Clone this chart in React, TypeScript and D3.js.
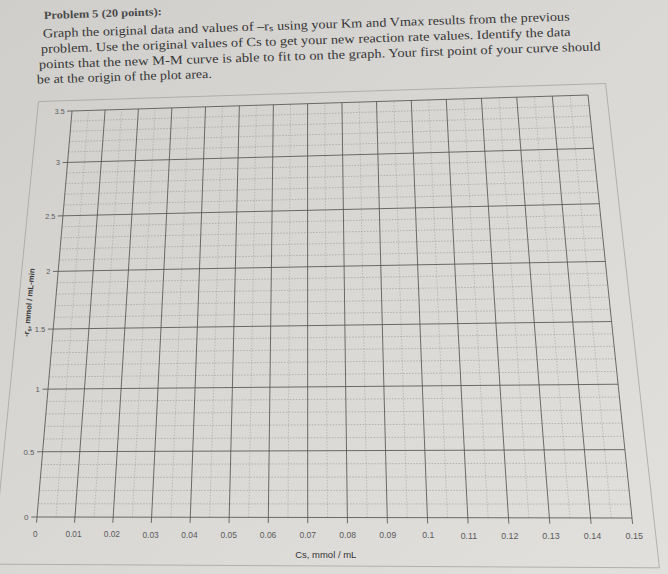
import React from 'react';
import * as d3 from 'd3';

// ---------- data ----------
const xTickValues = [0, 0.01, 0.02, 0.03, 0.04, 0.05, 0.06, 0.07, 0.08, 0.09, 0.1, 0.11, 0.12, 0.13, 0.14, 0.15];
const xTickLabels = ['0', '0.01', '0.02', '0.03', '0.04', '0.05', '0.06', '0.07', '0.08', '0.09', '0.1', '0.11', '0.12', '0.13', '0.14', '0.15'];
const yTickValues = [0, 0.5, 1, 1.5, 2, 2.5, 3, 3.5];
const yTickLabels = ['0', '0.5', '1', '1.5', '2', '2.5', '3', '3.5'];
const xDomain = [0, 0.15];
const yDomain = [0, 3.5];
const xMinorCount = 30; // every 0.005
const yMinorCount = 35; // every 0.1
const problemTitle = 'Problem 5 (20 points):';
const problemLines = [
  'Graph the original data and values of \u2013r\u209B using your Km and Vmax results from the previous',
  'problem. Use the original values of Cs to get your new reaction rate values. Identify the data',
  'points that the new M-M curve is able to fit to on the graph. Your first point of your curve should',
  'be at the origin of the plot area.',
];
const xAxisTitle = 'Cs, mmol / mL';
const yAxisTitleParts = ['-r', 's', ', mmol / mL-min'];

// ---------- layout ----------
const W = 668;
const H = 574;
// photographed plot-area corners: (u,v) = (0,0), (1,0), (1,1), (0,1)
const quad: [number, number][] = [[37, 517], [632, 518], [588, 95], [72, 111]];
const textLayout = [
  { x: 44, y: 19, w: 118, size: 11 },
  { x: 43, y: 37.5, w: 527, size: 12.5 },
  { x: 41, y: 53, w: 530, size: 12.5 },
  { x: 39, y: 68.5, w: 562, size: 12.5 },
  { x: 37, y: 83.5, w: 175, size: 12.5 },
];
const textAngle = -1.85;

function makeHomography(q: [number, number][]) {
  const [[x0, y0], [x1, y1], [x2, y2], [x3, y3]] = q;
  const dx1 = x1 - x2, dx2 = x3 - x2, dx3 = x0 - x1 + x2 - x3;
  const dy1 = y1 - y2, dy2 = y3 - y2, dy3 = y0 - y1 + y2 - y3;
  const den = dx1 * dy2 - dx2 * dy1;
  const g = (dx3 * dy2 - dx2 * dy3) / den;
  const h = (dx1 * dy3 - dx3 * dy1) / den;
  const a = x1 - x0 + g * x1, b = x3 - x0 + h * x3, c = x0;
  const d = y1 - y0 + g * y1, e = y3 - y0 + h * y3, f = y0;
  return (u: number, v: number): [number, number] => {
    const w = g * u + h * v + 1;
    return [(a * u + b * v + c) / w, (d * u + e * v + f) / w];
  };
}

export default function App() {
  const xs = d3.scaleLinear().domain(xDomain).range([0, 1]);
  const ys = d3.scaleLinear().domain(yDomain).range([0, 1]);
  const P = makeHomography(quad);
  const localScale = (u: number, v: number) => {
    const a = P(u, v), b = P(u + 0.01, v);
    return Math.hypot(b[0] - a[0], b[1] - a[1]) / (0.01 * 595);
  };
  const seg = (a: [number, number], b: [number, number], key: string, stroke: string, sw: number, dash?: string) => (
    <line key={key} x1={a[0]} y1={a[1]} x2={b[0]} y2={b[1]} stroke={stroke} strokeWidth={sw} strokeDasharray={dash} />
  );

  const xStep = (xDomain[1] - xDomain[0]) / xMinorCount;
  const yStep = (yDomain[1] - yDomain[0]) / yMinorCount;
  const vLines = d3.range(0, xMinorCount + 1).map((i) => ({ val: i * xStep, major: i % 2 === 0 }));
  const hLines = d3.range(0, yMinorCount + 1).map((i) => ({ val: i * yStep, major: i % 5 === 0 }));

  const outer = [P(-0.07, -0.1), P(1.035, -0.1), P(1.035, 1.03), P(-0.07, 1.03)];
  const outerPath = d3.line()(outer as [number, number][]) + 'Z';

  // y-title direction from left edge of plot
  const l0 = P(0, 0), l1 = P(0, 1);
  const leftAngle = (Math.atan2(l1[1] - l0[1], l1[0] - l0[0]) * 180) / Math.PI;
  const yTitlePos = P(-0.05, ys(1.73));
  const xTitlePos = P(xs(0.0745), -0.083);

  const sans = '"Liberation Sans", Arial, sans-serif';
  const serif = '"Liberation Serif", "Times New Roman", serif';

  return (
    <svg width={W} height={H} style={{ position: 'absolute', left: 0, top: 0, display: 'block' }}>
      <defs>
        <linearGradient id="paper" x1="0" y1="0" x2="1" y2="1">
          <stop offset="0" stopColor="#d0cecb" />
          <stop offset="0.5" stopColor="#dad8d5" />
          <stop offset="1" stopColor="#e2e0dd" />
        </linearGradient>
      </defs>
      <rect x={0} y={0} width={W} height={H} fill="url(#paper)" />

      {/* problem text */}
      <g fontFamily={serif}>
        {[problemTitle, ...problemLines].map((t, i) => {
          const L = textLayout[i];
          return (
            <text key={i} x={L.x} y={L.y} fontSize={L.size} fontWeight={i === 0 ? 'bold' : 'normal'}
              fill={i === 0 ? '#4a4a4a' : '#353535'}
              textLength={L.w} lengthAdjust="spacingAndGlyphs"
              transform={`rotate(${textAngle},${L.x},${L.y})`}>{t}</text>
          );
        })}
      </g>

      {/* chart area border */}
      <path d={outerPath} fill="none" stroke="#a6a4a0" strokeWidth={0.8} />

      {/* minor grid */}
      <g>
        {vLines.filter((l) => !l.major).map((l, i) =>
          seg(P(xs(l.val), 0), P(xs(l.val), 1), 'vm' + i, '#a3a3a3', 0.6, '1.5,1.5'))}
        {hLines.filter((l) => !l.major).map((l, i) =>
          seg(P(0, ys(l.val)), P(1, ys(l.val)), 'hm' + i, '#969696', 0.6, '1.5,1.5'))}
      </g>
      {/* major grid + ticks */}
      <g>
        {vLines.filter((l) => l.major).map((l, i) =>
          seg(P(xs(l.val), -0.012), P(xs(l.val), 1), 'vM' + i, '#555', 0.85))}
        {hLines.filter((l) => l.major).map((l, i) =>
          seg(P(-0.01, ys(l.val)), P(1, ys(l.val)), 'hM' + i, '#555', 0.85))}
      </g>

      {/* tick labels */}
      <g fill="#5a5a5a" fontFamily={sans}>
        {xTickValues.map((v, i) => {
          const [px, py] = P(xs(v), -0.043);
          return (
            <text key={'xl' + i} x={px} y={py} fontSize={8.6 * localScale(xs(v), 0)} textAnchor="middle">
              {xTickLabels[i]}
            </text>
          );
        })}
        {yTickValues.map((v, i) => {
          const [px, py] = P(-0.015, ys(v));
          return (
            <text key={'yl' + i} x={px} y={py} dy="0.35em" fontSize={8.4 * localScale(0, ys(v))} textAnchor="end">
              {yTickLabels[i]}
            </text>
          );
        })}
      </g>

      {/* axis titles */}
      <text x={xTitlePos[0]} y={xTitlePos[1]} fontFamily={sans} fontSize={9.5}
        fill="#333" textAnchor="middle">{xAxisTitle}</text>
      <text x={yTitlePos[0]} y={yTitlePos[1]} dy="0.35em" fontFamily={sans} fontSize={7.8} fontWeight="bold" fill="#3a3a3a"
        textAnchor="middle" transform={`rotate(${leftAngle},${yTitlePos[0]},${yTitlePos[1]})`}>
        {yAxisTitleParts[0]}
        <tspan fontSize={6} dy="2">{yAxisTitleParts[1]}</tspan>
        <tspan dy="-2">{yAxisTitleParts[2]}</tspan>
      </text>
    </svg>
  );
}
